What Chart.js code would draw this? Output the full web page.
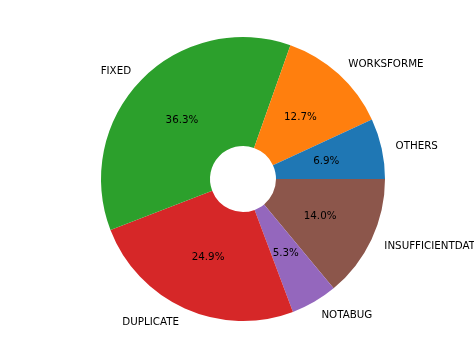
<!DOCTYPE html>
<html>
<head>
<meta charset="utf-8">
<script src="https://cdn.jsdelivr.net/npm/chart.js@4/dist/chart.umd.min.js"></script>
<style>
  html, body { margin: 0; padding: 0; background: #fff; }
  #box { width: 474px; height: 355px; }
</style>
</head>
<body>
<div id="box"><canvas id="myChart" width="474" height="355"></canvas></div>
<script>
// slices in matplotlib order (counter-clockwise from 3 o'clock)
var labels = ['OTHERS', 'WORKSFORME', 'FIXED', 'DUPLICATE', 'NOTABUG', 'INSUFFICIENTDATA'];
var values = [6.9, 12.7, 36.3, 24.9, 5.3, 14.0];
var colors = ['#1f77b4', '#ff7f0e', '#2ca02c', '#d62728', '#9467bd', '#8c564b'];

// chart.js goes clockwise, so flip the order
var revLabels = labels.slice().reverse();
var revValues = values.slice().reverse();
var revColors = colors.slice().reverse();
var total = values.reduce((a, b) => a + b, 0);

const pieText = {
  id: 'pieText',
  afterDatasetsDraw(chart) {
    var ctx = chart.ctx;
    var meta = chart.getDatasetMeta(0);
    ctx.save();
    ctx.font = '10.3px "DejaVu Sans"';
    ctx.fillStyle = '#000';
    ctx.textBaseline = 'middle';
    meta.data.forEach(function(arc, i) {
      var mid = (arc.startAngle + arc.endAngle) / 2;
      var r = arc.outerRadius;
      var cx = Math.cos(mid), cy = Math.sin(mid);
      // category label outside
      ctx.textAlign = cx >= 0 ? 'left' : 'right';
      ctx.fillText(revLabels[i], arc.x + cx * r * 1.1, arc.y + cy * r * 1.1 + 1);
      // percent inside
      ctx.textAlign = 'center';
      var pct = (revValues[i] / total * 100).toFixed(1) + '%';
      ctx.fillText(pct, arc.x + cx * r * 0.6, arc.y + cy * r * 0.6 + 1);
    });
    ctx.restore();
  }
};

const config = {
  type: 'doughnut',
  data: {
    labels: revLabels,
    datasets: [{
      data: revValues,
      backgroundColor: revColors,
      borderWidth: 0,
      hoverOffset: 0,
      offset: 0
    }]
  },
  options: {
    responsive: false,
    animation: false,
    rotation: 90,
    radius: 142,
    cutout: 33,
    layout: { padding: { left: 20, right: 8, top: 37, bottom: 34 } },
    plugins: {
      legend: { display: false },
      tooltip: { enabled: false }
    }
  },
  plugins: [pieText]
};

var chartInstance = new Chart(document.getElementById('myChart'), config);
</script>
</body>
</html>
